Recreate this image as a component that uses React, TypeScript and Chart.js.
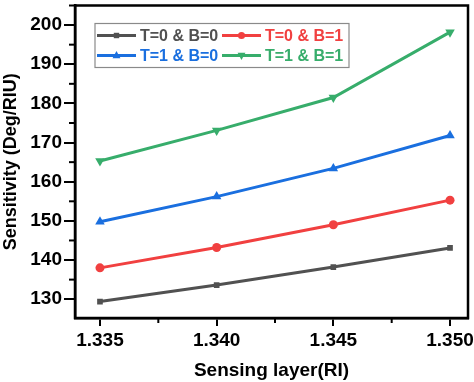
import React, { useEffect, useRef } from "react";
import { Chart, registerables } from "chart.js";

Chart.register(...registerables);

const riValues = [1.335, 1.34, 1.345, 1.35];
const xTicks = [1.335, 1.34, 1.345, 1.35];
const yTicks = [130, 140, 150, 160, 170, 180, 190, 200];
const seriesNames = ["T=0 & B=0", "T=0 & B=1", "T=1 & B=0", "T=1 & B=1"];
const t0b0 = [129.4, 133.6, 138.2, 143.1];
const t0b1 = [138.0, 143.2, 149.0, 155.3];
const t1b0 = [149.8, 156.2, 163.4, 171.8];
const t1b1 = [165.3, 173.1, 181.5, 198.2];

const colors = ["#515151", "#F14040", "#1A6FDF", "#37AD6B"];
const styles: any[] = ["rect", "circle", "triangle", "triangle"];
const rotations = [0, 0, 0, 180];
const radii = [4, 4.5, 5.5, 5.5];
const FONT = "'Liberation Sans', Arial, sans-serif";

function drawMarker(ctx: CanvasRenderingContext2D, style: string, x: number, y: number, r: number, rot: number, color: string) {
  ctx.save();
  ctx.fillStyle = color;
  ctx.beginPath();
  if (style === "rect") {
    ctx.rect(x - r * 0.85, y - r * 0.85, r * 1.7, r * 1.7);
  } else if (style === "circle") {
    ctx.arc(x, y, r, 0, Math.PI * 2);
  } else {
    const d = rot === 180 ? -1 : 1;
    ctx.moveTo(x, y - d * r);
    ctx.lineTo(x + r * 0.9, y + d * r * 0.6);
    ctx.lineTo(x - r * 0.9, y + d * r * 0.6);
    ctx.closePath();
  }
  ctx.fill();
  ctx.restore();
}

const framePlugin = {
  id: "frameAndExtras",
  afterDraw(chart: any) {
    const { ctx, chartArea } = chart;
    const xs = chart.scales.x;
    const ys = chart.scales.y;
    ctx.save();
    ctx.strokeStyle = "#000";
    ctx.lineWidth = 2.5;
    ctx.strokeRect(chartArea.left, chartArea.top, chartArea.right - chartArea.left, chartArea.bottom - chartArea.top);
    ctx.lineWidth = 2;
    const minorY = yTicks.map((v) => v - 5).concat([yTicks[yTicks.length - 1] + 5]);
    for (const v of minorY) {
      const py = ys.getPixelForValue(v);
      if (py < chartArea.top || py > chartArea.bottom) continue;
      ctx.beginPath();
      ctx.moveTo(chartArea.left - 6, py);
      ctx.lineTo(chartArea.left, py);
      ctx.stroke();
    }
    for (let i = 0; i < xTicks.length - 1; i++) {
      const v = (xTicks[i] + xTicks[i + 1]) / 2;
      const px = xs.getPixelForValue(v);
      ctx.beginPath();
      ctx.moveTo(px, chartArea.bottom);
      ctx.lineTo(px, chartArea.bottom + 5);
      ctx.stroke();
    }
    // legend
    const lx = chartArea.left + 20;
    const ly = chartArea.top + 18;
    const lw = 254;
    const lh = 44;
    ctx.fillStyle = "#fff";
    ctx.fillRect(lx, ly, lw, lh);
    ctx.strokeStyle = "#8a8a8a";
    ctx.lineWidth = 1.2;
    ctx.strokeRect(lx, ly, lw, lh);
    ctx.font = "bold 16px " + FONT;
    ctx.textBaseline = "middle";
    for (let i = 0; i < seriesNames.length; i++) {
      const col = i % 2;
      const row = Math.floor(i / 2);
      const x0 = lx + 2 + col * 125;
      const y0 = ly + 12 + row * 20;
      ctx.strokeStyle = colors[i];
      ctx.lineWidth = 3;
      ctx.beginPath();
      ctx.moveTo(x0, y0);
      ctx.lineTo(x0 + 39, y0);
      ctx.stroke();
      drawMarker(ctx, styles[i], x0 + 19.5, y0, radii[i] * 0.8, rotations[i], colors[i]);
      ctx.fillStyle = colors[i];
      ctx.textAlign = "left";
      ctx.fillText(seriesNames[i], x0 + 43, y0 + 1);
    }
    ctx.restore();
  },
};

export default function App() {
  const ref = useRef<HTMLCanvasElement>(null);
  useEffect(() => {
    if (!ref.current) return;
    const seriesData = [t0b0, t0b1, t1b0, t1b1];
    const chart = new Chart(ref.current, {
      type: "line",
      data: {
        datasets: seriesData.map((arr, i) => ({
          label: seriesNames[i],
          data: arr.map((v, j) => ({ x: riValues[j], y: v })),
          borderColor: colors[i],
          backgroundColor: colors[i],
          borderWidth: 3,
          pointStyle: styles[i],
          pointRotation: rotations[i],
          pointRadius: radii[i],
          pointBorderWidth: 0,
          tension: 0,
        })),
      },
      options: {
        responsive: false,
        animation: false,
        layout: { padding: { top: 1, right: 6, left: 0, bottom: 0 } },
        plugins: { legend: { display: false }, tooltip: { enabled: false } },
        scales: {
          x: {
            type: "linear",
            min: 1.33393,
            max: 1.35077,
            afterBuildTicks: (s: any) => {
              s.ticks = xTicks.map((v) => ({ value: v }));
            },
            afterFit: (s: any) => {
              s.height = 64;
              s.paddingLeft = 0;
              s.paddingRight = 0;
            },
            ticks: {
              color: "#000",
              font: { family: FONT, size: 19, weight: "bold" },
              padding: 3,
              maxRotation: 0,
              autoSkip: false,
              callback: (v: any) => Number(v).toFixed(3),
            },
            grid: { drawOnChartArea: false, drawTicks: true, tickLength: 8, color: "#000", lineWidth: 2 },
            border: { display: true, color: "#000", width: 2.5 },
            title: {
              display: true,
              text: "Sensing layer(RI)",
              color: "#000",
              font: { family: FONT, size: 19, weight: "bold" },
              padding: { top: 4, bottom: 0 },
            },
          },
          y: {
            type: "linear",
            min: 125.2,
            max: 205,
            afterBuildTicks: (s: any) => {
              s.ticks = yTicks.map((v) => ({ value: v }));
            },
            afterFit: (s: any) => {
              s.width = 75;
              s.paddingTop = 0;
              s.paddingBottom = 0;
            },
            ticks: {
              color: "#000",
              font: { family: FONT, size: 19, weight: "bold" },
              padding: 2,
              autoSkip: false,
            },
            grid: { drawOnChartArea: false, drawTicks: true, tickLength: 11, color: "#000", lineWidth: 2 },
            border: { display: true, color: "#000", width: 2.5 },
            title: {
              display: true,
              text: "Sensitivity (Deg/RIU)",
              color: "#000",
              font: { family: FONT, size: 18, weight: "bold" },
              padding: { top: 0, bottom: 0 },
            },
          },
        },
      },
      plugins: [framePlugin],
    } as any);
    return () => chart.destroy();
  }, []);
  return (
    <div style={{ position: "fixed", left: 0, top: 0, width: 474, height: 382, background: "#fff" }}>
      <canvas ref={ref} width={474} height={382} />
    </div>
  );
}
